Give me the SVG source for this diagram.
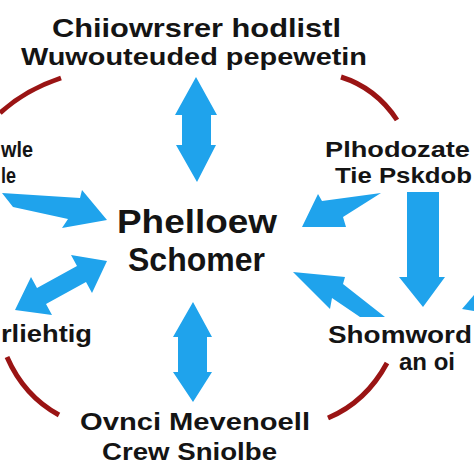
<svg xmlns="http://www.w3.org/2000/svg" width="474" height="474" viewBox="0 0 474 474">
<style>
text{font-family:"Liberation Sans",Arial,sans-serif;font-weight:bold;fill:#141414}
.arc{fill:none;stroke:#9a1414;stroke-width:5;stroke-linecap:butt}
.arr{fill:#1fa3ec}
</style>
<rect width="474" height="474" fill="#ffffff"/>
<g id="connectors">
<path class="arc" d="M61,78 Q25,90 0,113"/>
<path class="arc" d="M341,77 Q376,88 397,120"/>
<path class="arc" d="M7,357 Q24,396 59,415"/>
<path class="arc" d="M328,418 Q366,402 387,363"/>
<polygon class="arr" points="196,77 217,115 211,115 211,145 216,145 197,182 176,145 182,145 182,115 175,115"/>
<polygon class="arr" points="193,302 212,337 207,337 207,372 212,372 193,402 173,372 178,372 178,337 173,337"/>
<polygon class="arr" points="2,193 80,198 82,190 107,220 62,228 68,219 13,207"/>
<polygon class="arr" points="107,261 92,293 86,282 46,304 52,315 15,310 31,277 37,288 77,266 71,255"/>
<polygon class="arr" points="302,227 318,194 322,201 381,193 343,217 346,227"/>
<polygon class="arr" points="407,192 439,192 439,277 445,277 423,307 399,277 407,277"/>
<polygon class="arr" points="293,272 345,277 343,284 385,317 360,317 332,298 330,309"/>
<polygon class="arr" points="462,309 474,295 474,311"/>
</g>
<g id="node-top">
<text x="52" y="37" font-size="25" textLength="289" lengthAdjust="spacingAndGlyphs">Chiiowrsrer hodlistl</text>
<text x="21" y="65" font-size="24" textLength="346" lengthAdjust="spacingAndGlyphs">Wuwouteuded pepewetin</text>
</g>
<g id="node-left">
<text x="1" y="157" font-size="22" textLength="32" lengthAdjust="spacingAndGlyphs">wle</text>
<text x="1" y="183" font-size="22" textLength="15" lengthAdjust="spacingAndGlyphs">le</text>
</g>
<g id="node-center">
<text x="117" y="233" font-size="34" textLength="160" lengthAdjust="spacingAndGlyphs">Phelloew</text>
<text x="128" y="271" font-size="33" textLength="137" lengthAdjust="spacingAndGlyphs">Schomer</text>
</g>
<g id="node-right">
<text x="325" y="157" font-size="22" textLength="145" lengthAdjust="spacingAndGlyphs">Plhodozate</text>
<text x="335" y="183" font-size="22" textLength="137" lengthAdjust="spacingAndGlyphs">Tie Pskdob</text>
</g>
<g id="node-left-bottom">
<text x="1" y="342" font-size="24" textLength="91" lengthAdjust="spacingAndGlyphs">rliehtig</text>
</g>
<g id="node-right-bottom">
<text x="328" y="343" font-size="24" textLength="144" lengthAdjust="spacingAndGlyphs">Shomword</text>
<text x="399" y="370" font-size="24">an oi</text>
</g>
<g id="node-bottom">
<text x="80" y="430" font-size="24" textLength="230" lengthAdjust="spacingAndGlyphs">Ovnci Mevenoell</text>
<text x="102" y="460" font-size="24" textLength="175" lengthAdjust="spacingAndGlyphs">Crew Sniolbe</text>
</g>
</svg>
